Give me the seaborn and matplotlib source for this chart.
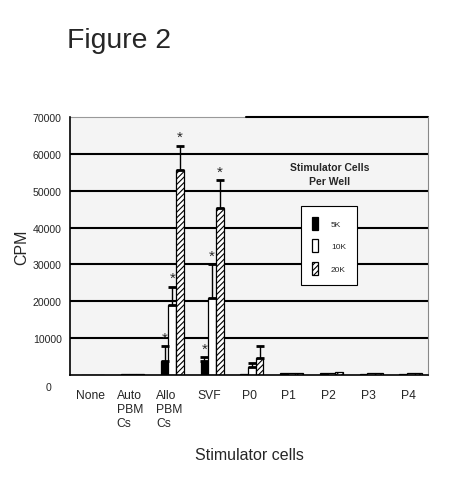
import matplotlib
matplotlib.use("Agg")
import matplotlib.pyplot as plt
from matplotlib.transforms import ScaledTranslation
import seaborn as sns
import pandas as pd

sns.set_style("white")
plt.rcParams["font.family"] = ["Liberation Sans", "DejaVu Sans"]
plt.rcParams["hatch.linewidth"] = 0.8

# values
groups = ["None", "Auto\nPBM\nCs", "Allo\nPBM\nCs", "SVF", "P0", "P1", "P2", "P3", "P4"]
densities = ["5K", "10K", "20K"]
cpm_5k = [100, 200, 3900, 3900, 400, 500, 500, 400, 300]
cpm_10k = [150, 250, 19000, 20800, 2100, 500, 600, 500, 500]
cpm_20k = [100, 300, 55700, 45300, 4600, 500, 900, 500, 500]
err_5k = [0, 0, 3900, 1100, 0, 0, 0, 0, 0]
err_10k = [0, 0, 5000, 9400, 1300, 0, 0, 0, 0]
err_20k = [0, 0, 6500, 7500, 3200, 0, 0, 0, 0]
starred = [False, False, True, True, False, False, False, False, False]

rows = []
for d, vals, errs in zip(densities, [cpm_5k, cpm_10k, cpm_20k], [err_5k, err_10k, err_20k]):
    for g, v, e, s in zip(groups, vals, errs, starred):
        rows.append({"group": g, "density": d, "cpm": v, "err": e, "star": s})
df = pd.DataFrame(rows)

fig = plt.figure(figsize=(4.74, 4.81), dpi=100)
ax = fig.add_axes([0.148, 0.218, 0.755, 0.537])
ax.set_facecolor("#f4f4f4")

sns.barplot(data=df, x="group", y="cpm", hue="density", order=groups,
            hue_order=densities, palette=["black", "white", "white"],
            edgecolor="black", linewidth=0.9, width=0.58, errorbar=None,
            legend=False, ax=ax)

bar_sets = list(ax.containers)
for i, cont in enumerate(bar_sets):
    sub = df[df["density"] == densities[i]].reset_index(drop=True)
    for j, patch in enumerate(cont.patches):
        patch.set_x(patch.get_x() + 0.07)
        if i == 2:
            patch.set_hatch("//////")
        x = patch.get_x() + patch.get_width() / 2
        top = patch.get_height()
        e = sub.loc[j, "err"]
        if e > 0:
            ax.errorbar(x, top, yerr=[[0], [e]], fmt="none", ecolor="black",
                        elinewidth=1.0, capsize=3.0, capthick=2.0, zorder=4)
        if sub.loc[j, "star"]:
            ax.annotate("*", (x, top + e), xytext=(0, 1), textcoords="offset points",
                        ha="center", va="bottom", fontsize=11, zorder=5)

ax.set_xlim(-0.5, len(groups) - 0.5)
ax.set_ylim(0, 70000)
ax.set_yticks(range(0, 70001, 10000))
ax.set_yticklabels([str(v) for v in range(0, 70001, 10000)])
ax.yaxis.grid(True, color="black", linewidth=1.5)
ax.yaxis.get_gridlines()[0].set_visible(False)
ax.yaxis.get_gridlines()[-1].set_visible(False)
ax.set_axisbelow(True)

# group boundaries as ticks, names in between
ax.set_xticks([k - 0.5 for k in range(len(groups) + 1)])
ax.set_xticklabels([])
ax.set_xticks(range(len(groups)), minor=True)
ax.set_xticklabels(groups, minor=True, fontsize=8.7, multialignment="left", va="top")
ax.tick_params(axis="x", which="major", direction="out", length=6, width=1, color="black")
ax.tick_params(axis="x", which="minor", length=0, pad=10)
ax.tick_params(axis="y", direction="out", length=3, width=1.2, pad=3, labelsize=7.6)

zero_lbl = ax.get_yticklabels()[0]
zero_lbl.set_transform(zero_lbl.get_transform() + ScaledTranslation(-0.10, -0.11, fig.dpi_scale_trans))

for side in ["left", "bottom"]:
    ax.spines[side].set_color("black")
    ax.spines[side].set_linewidth(1.2)
ax.spines["right"].set_color("#888888")
ax.spines["right"].set_linewidth(0.8)
ax.spines["top"].set_visible(False)
ax.axhline(70000, xmin=0, xmax=0.49, color="#999999", linewidth=0.8, clip_on=False)
ax.axhline(70000, xmin=0.49, xmax=1, color="black", linewidth=1.5, clip_on=False)

ax.set_xlabel("Stimulator cells", fontsize=11.5, labelpad=13)
ax.set_ylabel("CPM", fontsize=11.5, labelpad=3)

leg = ax.legend([c.patches[0] for c in bar_sets], densities, loc="upper left",
                bbox_to_anchor=(0.645, 0.655), fontsize=6, frameon=True,
                fancybox=False, edgecolor="black", framealpha=1,
                handlelength=0.8, handleheight=2.0, handletextpad=1.5,
                borderpad=1.3, labelspacing=1.15, borderaxespad=0)
leg.get_frame().set_linewidth(0.8)
ax.text(0.726, 0.78, "Stimulator Cells\nPer Well", transform=ax.transAxes,
        ha="center", va="center", fontsize=7.5, fontweight="bold",
        family=["Liberation Sans Narrow", "Liberation Sans"], linespacing=1.5)

fig.text(0.142, 0.915, "Figure 2", fontsize=20.4, ha="left", va="center")

fig.savefig("out.png", dpi=100)
